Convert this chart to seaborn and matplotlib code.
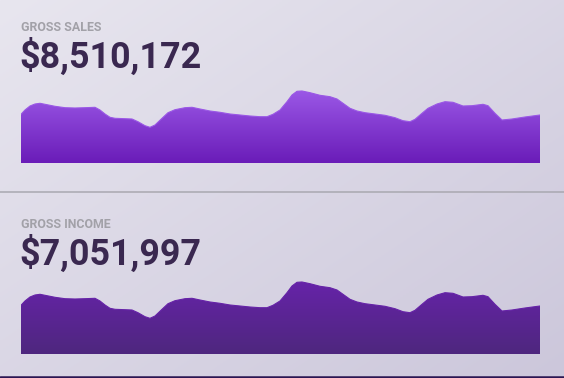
import numpy as np
import pandas as pd
import matplotlib
matplotlib.use("Agg")
import matplotlib.pyplot as plt
import seaborn as sns
from matplotlib.colors import LinearSegmentedColormap

# ---------------- data ----------------
labels = ["GROSS SALES", "GROSS INCOME"]
totals = ["$8,510,172", "$7,051,997"]

steps = [0, 4, 9, 14, 19, 24, 34, 44, 54, 64, 74, 79, 84, 89, 94, 104, 111, 117,
         124, 129, 134, 141, 147, 154, 164, 171, 179, 189, 199, 209, 219, 229, 239,
         246, 252, 259, 266, 271, 276, 281, 289, 299, 309, 316, 322, 329, 336, 344,
         354, 364, 374, 382, 389, 394, 401, 407, 416, 424, 432, 442, 451, 462, 467,
         474, 481, 491, 504, 519]
sales_values = [48.7, 53, 57, 59, 59.7, 58.7, 56.7, 55.3, 55, 55.3, 55.7, 53, 49,
                45.7, 44.7, 44.3, 44, 41.3, 37.3, 35.7, 38, 44.7, 50.3, 53.3, 55.3,
                55.7, 54, 52, 50.7, 49, 48, 47, 46.3, 46.3, 48.7, 53, 61.3, 68, 71.7,
                72, 70.3, 67.7, 66.3, 64, 59.7, 54.7, 52, 50.3, 49, 47.7, 45.3, 42.3,
                41.3, 43.7, 49.7, 54.7, 59, 61.3, 60.7, 57, 57.3, 58.7, 57.3, 49.7,
                43, 44, 46, 48]
income_values = [48.7, 53, 57, 59, 59.7, 58.7, 56.7, 55.3, 55, 55.3, 55.7, 53, 49,
                 45.7, 44.7, 44.3, 44, 41.3, 37.3, 35.7, 38, 44.7, 50.3, 53.3, 55.3,
                 55.7, 54, 52, 50.7, 49, 48, 47, 46.3, 46.3, 48.7, 53, 61.3, 68, 71.7,
                 72, 70.3, 67.7, 66.3, 64, 59.7, 54.7, 52, 50.3, 49, 47.7, 45.3, 42.3,
                 41.3, 43.7, 49.7, 54.7, 59, 61.3, 60.7, 57, 57.3, 58.7, 57.3, 49.7,
                 43, 44, 46, 48]

series = [sales_values, income_values]
grad_colors = [("#6a1cb8", "#9a57e6"), ("#4e277e", "#6623a8")]

# ---------------- figure ----------------
sns.set_theme(style="white")
plt.rcParams["font.family"] = ["Roboto", "DejaVu Sans"]

W, H = 564, 378
fig = plt.figure(figsize=(W / 100, H / 100), dpi=100)

# background gradient
bg = fig.add_axes([0, 0, 1, 1])
bg.set_axis_off()
xx, yy = np.meshgrid(np.linspace(0, 1, 200), np.linspace(0, 1, 200))
t = 0.5 * xx + 0.5 * yy
c0 = np.array([232, 230, 239]) / 255
c1 = np.array([204, 199, 219]) / 255
img = c0[None, None, :] + (c1 - c0)[None, None, :] * t[..., None]
bg.imshow(img, extent=[0, W, H, 0], aspect="auto", zorder=0)
bg.set_xlim(0, W)
bg.set_ylim(H, 0)
bg.axhline(191.5, color="#a9a8b0", lw=1.1, zorder=1)
bg.axhline(377.2, color="#2b1652", lw=1.8, zorder=1)

def fy(px):
    return 1 - px / H

base_px = [163, 354]
label_base = [30.7, 227.7]
total_base = [68.3, 265.0]

for i in range(2):
    df = pd.DataFrame({"step": steps, "value": series[i]})
    ax = fig.add_axes([21 / W, fy(base_px[i]), 519 / W, 80 / H])
    ax.set_axis_off()
    ax.set_xlim(0, 519)
    ax.set_ylim(0, 80)
    poly = ax.fill_between(df["step"], 0, df["value"], color="none", lw=0)
    cmap = LinearSegmentedColormap.from_list("g", list(grad_colors[i]))
    grad = np.linspace(0, 1, 256).reshape(-1, 1)
    im = ax.imshow(grad, extent=[0, 519, 0, df["value"].max()], origin="lower",
                   aspect="auto", cmap=cmap, zorder=2)
    im.set_clip_path(poly.get_paths()[0], transform=ax.transData)
    sns.lineplot(data=df, x="step", y="value", ax=ax, color=grad_colors[i][1],
                 lw=0.8, zorder=3, legend=False)
    ax.set_xlim(0, 519)
    ax.set_ylim(0, 80)
    ax.set_axis_off()

    fig.text(21 / W, fy(label_base[i]), labels[i], fontsize=8.9, fontweight="bold",
             color="#a2a1a8", va="baseline", ha="left")
    fig.text(19.5 / W, fy(total_base[i]), totals[i], fontsize=25.8, fontweight="bold",
             color="#3a2850", va="baseline", ha="left")

fig.savefig("out.png", dpi=100)
